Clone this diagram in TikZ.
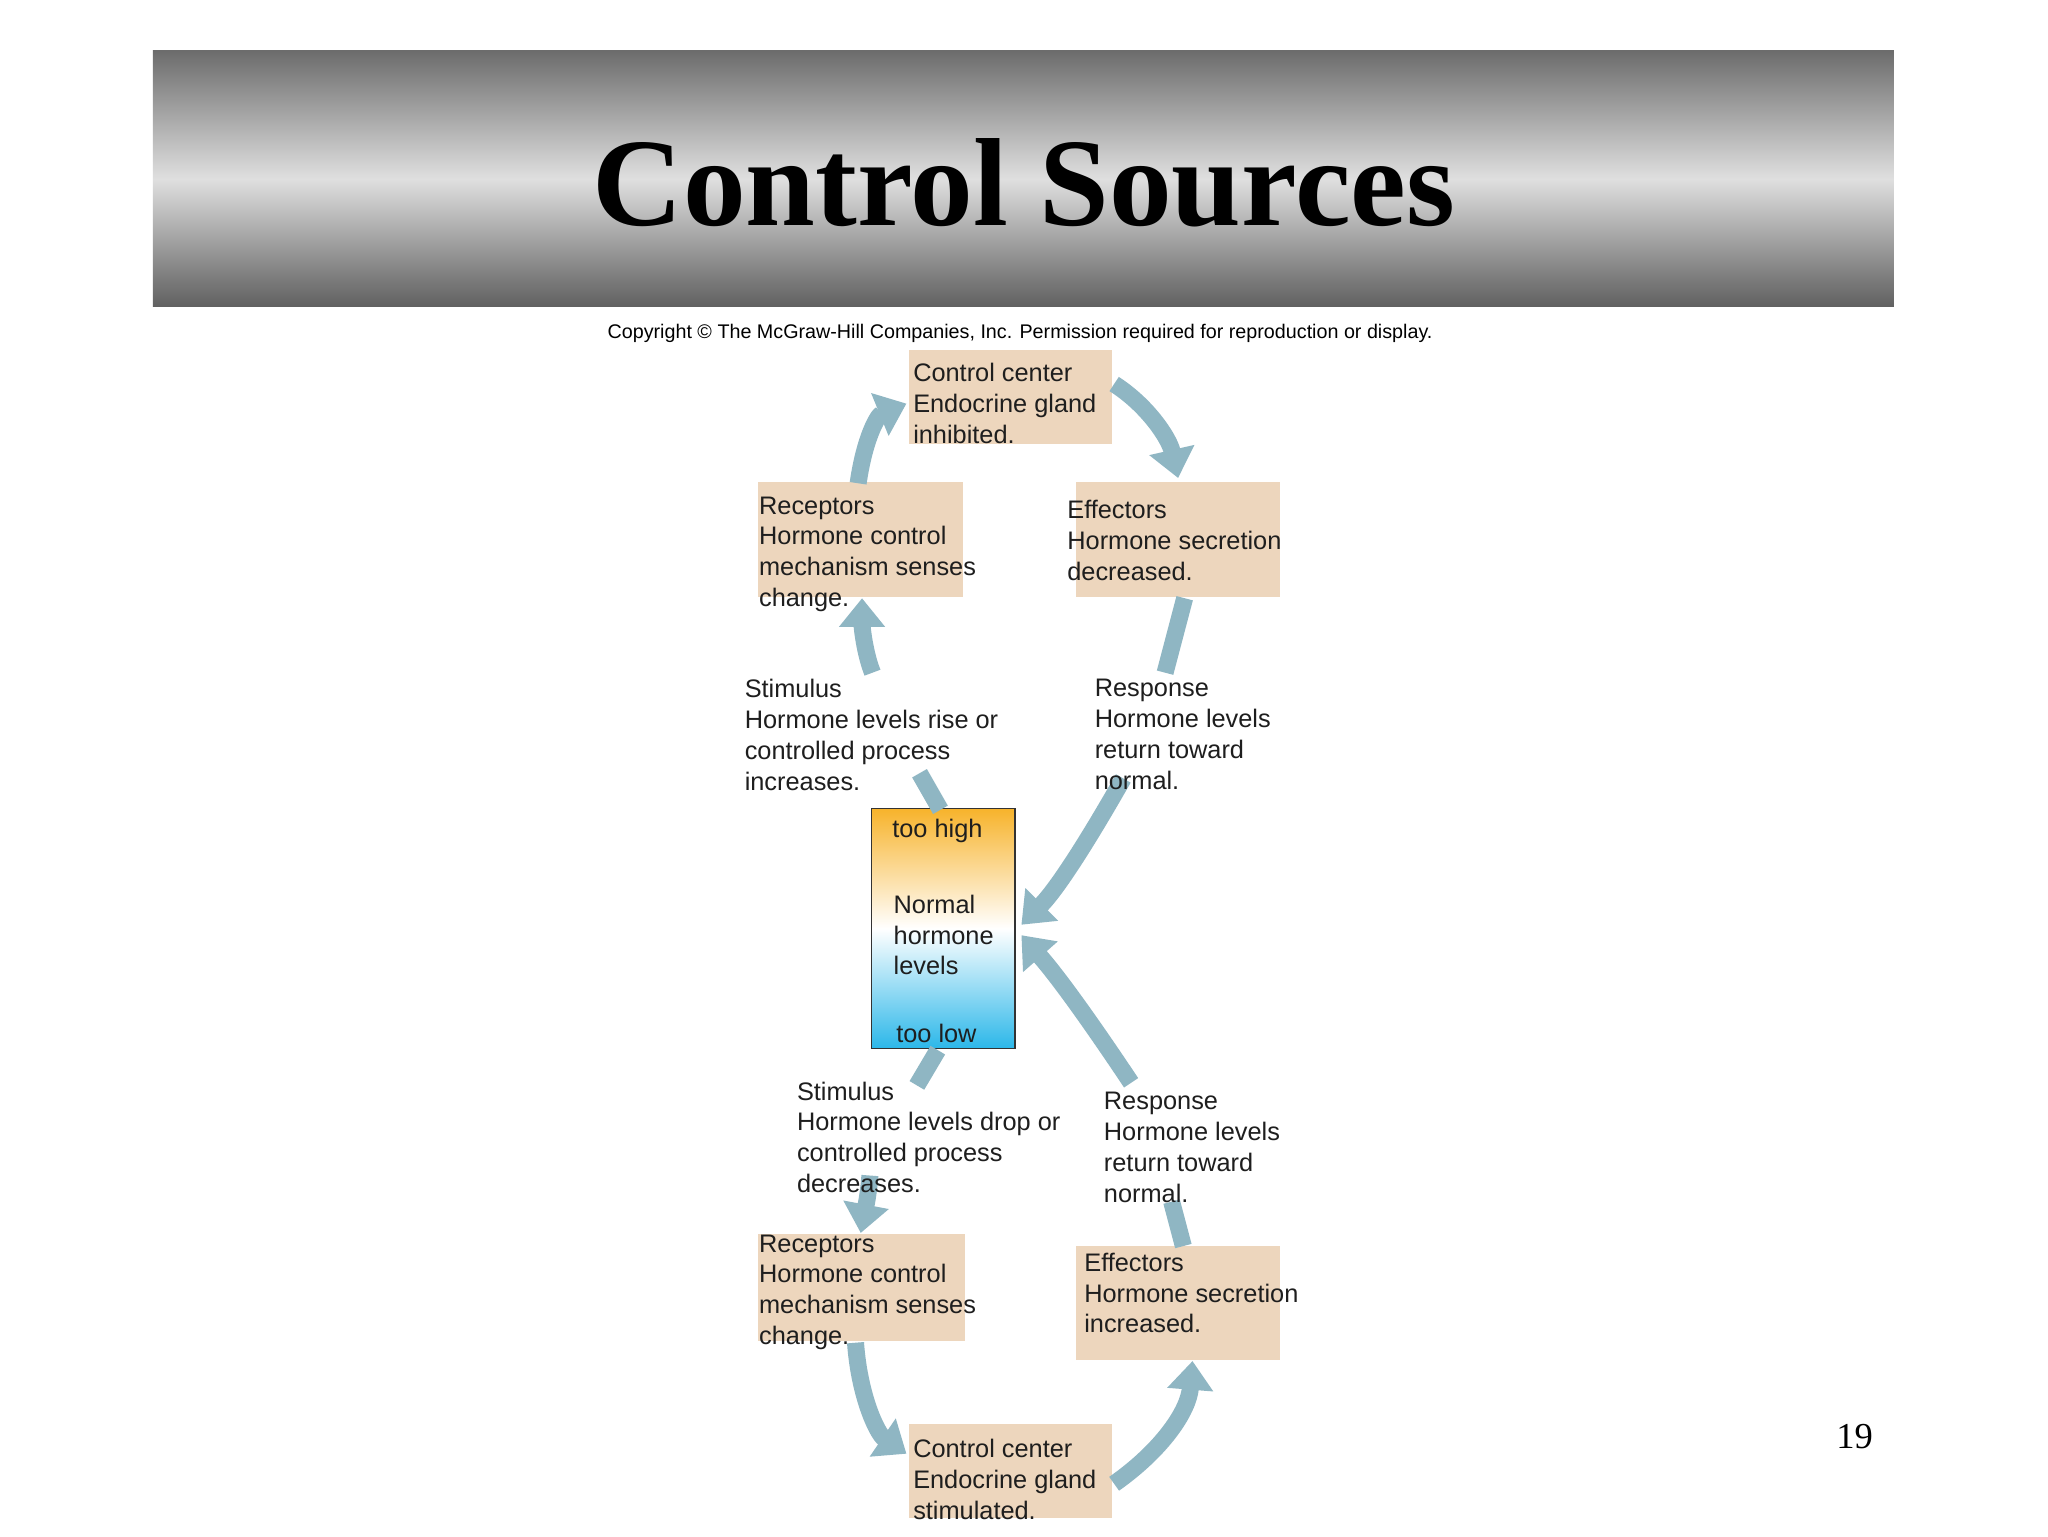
\documentclass[tikz,border=0pt]{standalone}
\usepackage{fontspec}
\setmainfont{Liberation Sans}
\newfontfamily\titlefont{Liberation Serif}
\usetikzlibrary{arrows.meta}
\definecolor{tan}{HTML}{EDD6BD}
\definecolor{arr}{HTML}{8FB6C3}
\definecolor{txt}{HTML}{1E1E1E}
\definecolor{hi}{HTML}{F7B32B}
\definecolor{lo}{HTML}{2BB7E9}
\tikzset{
  box/.style={fill=tan,draw=none},
  lbl/.style={anchor=north west,inner sep=0pt,align=left,text=txt,font=\fontsize{19.4}{23.6}\selectfont},
  flow/.style={draw=arr,line width=13pt},
  flowh/.style={flow,-{Triangle[length=22pt,width=34pt]}},
}
\begin{document}
\begin{tikzpicture}[x=1pt,y=-1pt]
\useasboundingbox (0,0) rectangle (1568,1176);
\fill[white] (0,0) rectangle (1568,1176);
% header
\shade[top color=gray!85!black,bottom color=gray!75!black,middle color=gray!25] (117,39) rectangle (1450,235);
\node (title) at (784,140) {\titlefont\bfseries\fontsize{96}{100}\selectfont Control Sources};
\node (copy) at (781,255) {\fontsize{15.1}{16}\selectfont Copyright \textcopyright{} The McGraw-Hill Companies, Inc. Permission required for reproduction or display.};
\node (page) at (1420,1100) {\titlefont\fontsize{28}{30}\selectfont 19};
% boxes
\fill[box] (696,268) rectangle (851,340);
\fill[box] (580,369) rectangle (737,457);
\fill[box] (824,369) rectangle (980,457);
\fill[box] (580,945) rectangle (739,1027);
\fill[box] (824,954) rectangle (980,1041);
\fill[box] (696,1090) rectangle (851,1162);
% gauge
\shade[top color=hi,bottom color=lo,middle color=white] (667,619) rectangle (777,803);
\draw[line width=1pt,black!80] (667,619) rectangle (777,803);
% coordinates
\coordinate (r1t) at (657,370);
\coordinate (c1l) at (694,309);
\coordinate (c1r) at (853,294);
\coordinate (e1t) at (902,366);
\coordinate (e1b) at (907,458);
\coordinate (e1e) at (892,515);
\coordinate (res1s) at (860,596);
\coordinate (gr1) at (782,708);
\coordinate (gt) at (720,620);
\coordinate (gt2) at (704,592);
\coordinate (st1) at (668,515);
\coordinate (r1b) at (660,458);
\coordinate (gb) at (718,804);
\coordinate (gb2) at (702,831);
\coordinate (st2) at (666,900);
\coordinate (r2t) at (659,944);
\coordinate (r2b) at (655,1028);
\coordinate (c2l) at (694,1113);
\coordinate (c2r) at (853,1136);
\coordinate (e2b) at (913,1042);
\coordinate (e2t) at (906,954);
\coordinate (e2e) at (897,920);
\coordinate (res2s) at (866,829);
\coordinate (gr2) at (782,716);
% arrows
\draw[flowh] (r1t) .. controls (662,335) and (672,318) .. (c1l);
\draw[flowh] (c1r) .. controls (878,310) and (895,335) .. (e1t);
\draw[flow] (e1b) -- (e1e);
\draw[flowh] (res1s) .. controls (835,640) and (810,680) .. (gr1);
\draw[flow] (gt) -- (gt2);
\draw[flowh] (st1) .. controls (662,500) and (660,480) .. (r1b);
\draw[flow] (gb) -- (gb2);
\draw[flowh] (st2) .. controls (665,915) and (662,928) .. (r2t);
\draw[flowh] (r2b) .. controls (658,1070) and (672,1098) .. (c2l);
\draw[flowh] (c2r) .. controls (890,1110) and (910,1080) .. (e2b);
\draw[flow] (e2t) -- (e2e);
\draw[flowh] (res2s) .. controls (840,790) and (812,750) .. (gr2);
% texts
\node[lbl] (t1) at (699,278) {Control center\\Endocrine gland\\inhibited.};
\node[lbl] (t2) at (581,380) {Receptors\\Hormone control\\mechanism senses\\change.};
\node[lbl] (t3) at (817,383) {Effectors\\Hormone secretion\\decreased.};
\node[lbl] (t4) at (570,520) {Stimulus\\Hormone levels rise or\\controlled process\\increases.};
\node[lbl] (t5) at (838,520) {Response\\Hormone levels\\return toward\\normal.};
\node[lbl] (g1) at (683,627) {too high};
\node[lbl] (g2) at (684,685) {Normal\\hormone\\levels};
\node[lbl] (g3) at (686,784) {too low};
\node[lbl] (t6) at (610,828) {Stimulus\\Hormone levels drop or\\controlled process\\decreases.};
\node[lbl] (t7) at (845,836) {Response\\Hormone levels\\return toward\\normal.};
\node[lbl] (t8) at (581,945) {Receptors\\Hormone control\\mechanism senses\\change.};
\node[lbl] (t9) at (830,959) {Effectors\\Hormone secretion\\increased.};
\node[lbl] (t10) at (699,1102) {Control center\\Endocrine gland\\stimulated.};
\end{tikzpicture}
\end{document}
